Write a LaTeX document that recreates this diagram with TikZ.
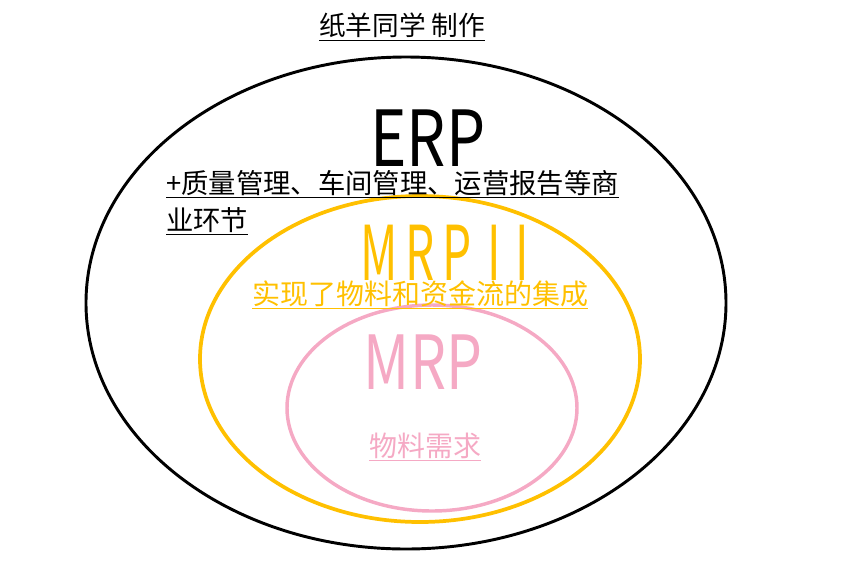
\documentclass[tikz,border=0pt]{standalone}
\usepackage{fontspec}
\setmainfont{Noto Sans CJK SC}
\definecolor{gold}{HTML}{FFC000}
\definecolor{pinkc}{HTML}{F5A9C4}
\begin{document}
\begin{tikzpicture}[x=0.75pt,y=-0.75pt,
  txt/.style={inner sep=0pt,anchor=center},
  big/.style={txt,font=\fontsize{56}{60}\selectfont,xscale=0.8}]
\useasboundingbox (0,0) rectangle (843,562);
\draw[line width=2.2pt] (406,303) ellipse[x radius=320,y radius=246];
\draw[gold,line width=2.8pt] (420,359) ellipse[x radius=220,y radius=163];
\draw[pinkc,line width=2.6pt] (432,408) ellipse[x radius=145,y radius=103];
\node[txt,font=\fontsize{20}{24}\selectfont] (t) at (402,27) {\underline{纸羊同学\ 制作}};
\node[big,font=\fontsize{58}{60}\selectfont,xscale=1.0] (erp) at (428,138) {ERP};
\node[txt,anchor=north west,font=\fontsize{20.5}{28}\selectfont,align=left] (q) at (166,170)
  {\underline{+质量管理、车间管理、运营报告等商}\\\underline{业环节}};
\node[big,text=gold,font=\fontsize{54}{56}\selectfont,xscale=0.8,yscale=1.05] (m2) at (445,253) {M\,R\,P\,\,I\,\,I};
\node[txt,text=gold,font=\fontsize{21}{24}\selectfont] (s) at (420,295) {\underline{实现了物料和资金流的集成}};
\node[big,text=pinkc,xscale=0.95] (m) at (423,362) {MRP};
\node[txt,text=pinkc,font=\fontsize{21}{24}\selectfont] (w) at (425,447) {\underline{物料需求}};
\end{tikzpicture}
\end{document}
